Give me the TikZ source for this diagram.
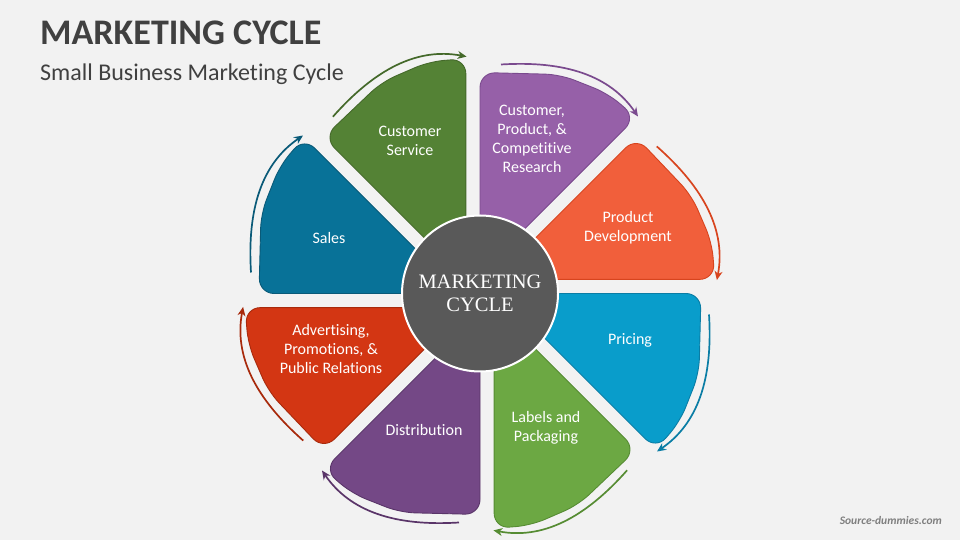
\documentclass[tikz,border=0pt]{standalone}
\usepackage{fontspec}
\setmainfont{Carlito}[Ligatures=CommonOff]
\newfontfamily\hubfont{Liberation Serif}
\usetikzlibrary{arrows.meta}

\definecolor{bgcol}{HTML}{F2F2F2}
\definecolor{titlegray}{HTML}{404040}
\definecolor{markgray}{HTML}{7F7F7F}
\definecolor{hubgray}{HTML}{595959}
\definecolor{resfill}{HTML}{9660A8}
\definecolor{resline}{HTML}{7A4A8E}
\definecolor{devfill}{HTML}{F15F3B}
\definecolor{devline}{HTML}{D8441E}
\definecolor{pricefill}{HTML}{099DCB}
\definecolor{priceline}{HTML}{0A7DA5}
\definecolor{packfill}{HTML}{6CA843}
\definecolor{packline}{HTML}{568C33}
\definecolor{distfill}{HTML}{744886}
\definecolor{distline}{HTML}{5A3569}
\definecolor{advfill}{HTML}{D33613}
\definecolor{advline}{HTML}{A82A0C}
\definecolor{salesfill}{HTML}{087298}
\definecolor{salesline}{HTML}{0A5A78}
\definecolor{servfill}{HTML}{548235}
\definecolor{servline}{HTML}{44692A}

\begin{document}
\begin{tikzpicture}[x=1pt,y=1pt,
    petal/.style 2 args={fill=#1,draw=#2,line width=0.9pt,rounded corners=15pt},
    cyclearrow/.style={draw=#1,line width=1.7pt,-{Stealth[length=9pt,width=8pt]}},
    lbl/.style={text=white,font=\fontsize{16}{19}\selectfont,align=center}]
        \def\cx{480}; % x of the hub centre
        \def\cy{246.5}; % y of the hub centre

        % Background and page size
        \fill[bgcol] (0,0) rectangle (960,540);
        \useasboundingbox (0,0) rectangle (960,540);

        % Title
        \node[anchor=base west,inner sep=0pt,text=titlegray,font=\fontsize{36}{43}\selectfont\bfseries] (title) at (40,495) {MARKETING CYCLE};
        \node[anchor=base west,inner sep=0pt,text=titlegray,font=\fontsize{24}{29}\selectfont] (subtitle) at (40,459) {Small Business Marketing Cycle};

        % One petal and one arrow for each step
        \foreach \A/\fc/\dc in {90/resfill/resline, 45/devfill/devline, 0/pricefill/priceline, -45/packfill/packline,
                                -90/distfill/distline, -135/advfill/advline, 180/salesfill/salesline, 135/servfill/servline} {
            \begin{scope}[shift={(\cx,\cy)},rotate=\A]
                \path[petal={\fc}{\dc}] (20,0) -- (221,0) -- (219,-80) -- (200,-128) -- (176,-156) -- cycle;
                \draw[cyclearrow=\dc] (229,-21) .. controls (233,-85) and (218,-130) .. (177,-158);
            \end{scope}
        }

        % Hub
        \node[circle,minimum size=156pt,inner sep=0pt,fill=hubgray,draw=white,line width=2pt,
              text=white,align=center,font=\hubfont\fontsize{20.5}{22.4}\selectfont] (hub) at (\cx,\cy) {MARKETING\\CYCLE};

        % Label each petal
        \node[lbl] (research) at (532,401.5) {Customer,\\Product, \&\\Competitive\\Research};
        \node[lbl] (develop) at (628,312.5) {Product\\Development};
        \node[lbl] (pricing) at (630,200) {Pricing};
        \node[lbl] (packaging) at (546,112.5) {Labels and\\Packaging};
        \node[lbl] (distribution) at (424,110) {Distribution};
        \node[lbl] (advertising) at (331,191.3) {Advertising,\\Promotions, \&\\Public Relations};
        \node[lbl] (sales) at (329,302) {Sales};
        \node[lbl] (service) at (410,399) {Customer\\Service};

        % Watermark
        \node[anchor=base east,inner sep=0pt,text=markgray,font=\fontsize{11.5}{14}\selectfont\bfseries\itshape] (source) at (942,15) {Source-dummies.com};
    \end{tikzpicture}
\end{document}
